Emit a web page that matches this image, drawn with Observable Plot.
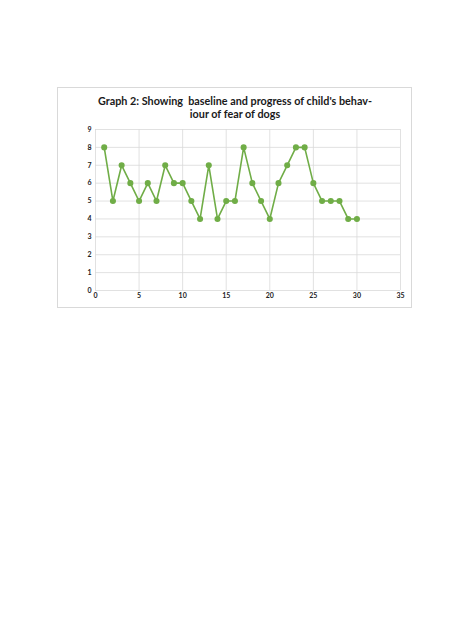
<!DOCTYPE html>
<html>
<head>
<meta charset="utf-8">
<script src="https://cdn.jsdelivr.net/npm/d3@7"></script>
<script src="https://cdn.jsdelivr.net/npm/@observablehq/plot@0.6"></script>
<style>
  html, body { margin: 0; padding: 0; background: #fff; }
  body { width: 474px; height: 632px; position: relative; overflow: hidden; font-family: Lato, "Open Sans", sans-serif; }
  #box { position: absolute; left: 57px; top: 87px; width: 355px; height: 221px; border: 1px solid #d9d9d9; box-sizing: border-box; }
  #title { position: absolute; left: 57px; top: 95px; width: 356px; text-align: center; font-weight: bold; font-size: 10.8px; line-height: 12.5px; color: #1a1a1a; }
  #chart { position: absolute; left: 0; top: 0; }
</style>
</head>
<body>
<div id="box"></div>
<div id="title">Graph 2: Showing&nbsp; baseline and progress of child's behav-<br>iour of fear of dogs</div>
<div id="chart"></div>
<script>
const sessions = [1,2,3,4,5,6,7,8,9,10,11,12,13,14,15,16,17,18,19,20,21,22,23,24,25,26,27,28,29,30];
const scores = [8,5,7,6,5,6,5,7,6,6,5,4,7,4,5,5,8,6,5,4,6,7,8,8,6,5,5,5,4,4];
const xTicks = [0,5,10,15,20,25,30,35];
const yTicks = [0,1,2,3,4,5,6,7,8,9];

const data = sessions.map((s, i) => ({session: s, score: scores[i]}));
const green = "#70ad47";

const plot = Plot.plot({
  width: 474,
  height: 310,
  marginLeft: 95,
  marginRight: 74,
  marginTop: 129,
  marginBottom: 20,
  style: {fontFamily: "Lato, 'Open Sans', sans-serif", fontSize: "7px", fontWeight: "bold", color: "#222", background: "transparent"},
  x: {domain: [0, 35], ticks: xTicks, label: null},
  y: {domain: [0, 9], ticks: yTicks, label: null},
  marks: [
    Plot.gridX(xTicks, {stroke: "#d9d9d9", strokeOpacity: 1, strokeWidth: 0.8}),
    Plot.gridY(yTicks, {stroke: "#d9d9d9", strokeOpacity: 1, strokeWidth: 0.8}),
    Plot.axisX(xTicks, {tickSize: 0, tickPadding: 3, fill: "#222", fontWeight: "bold"}),
    Plot.axisY(yTicks, {tickSize: 0, tickPadding: 4, fill: "#222", fontWeight: "bold"}),
    Plot.line(data, {x: "session", y: "score", stroke: green, strokeWidth: 1.6}),
    Plot.dot(data, {x: "session", y: "score", r: 2.3, fill: green, stroke: green})
  ]
});
document.getElementById("chart").appendChild(plot);
</script>
</body>
</html>
